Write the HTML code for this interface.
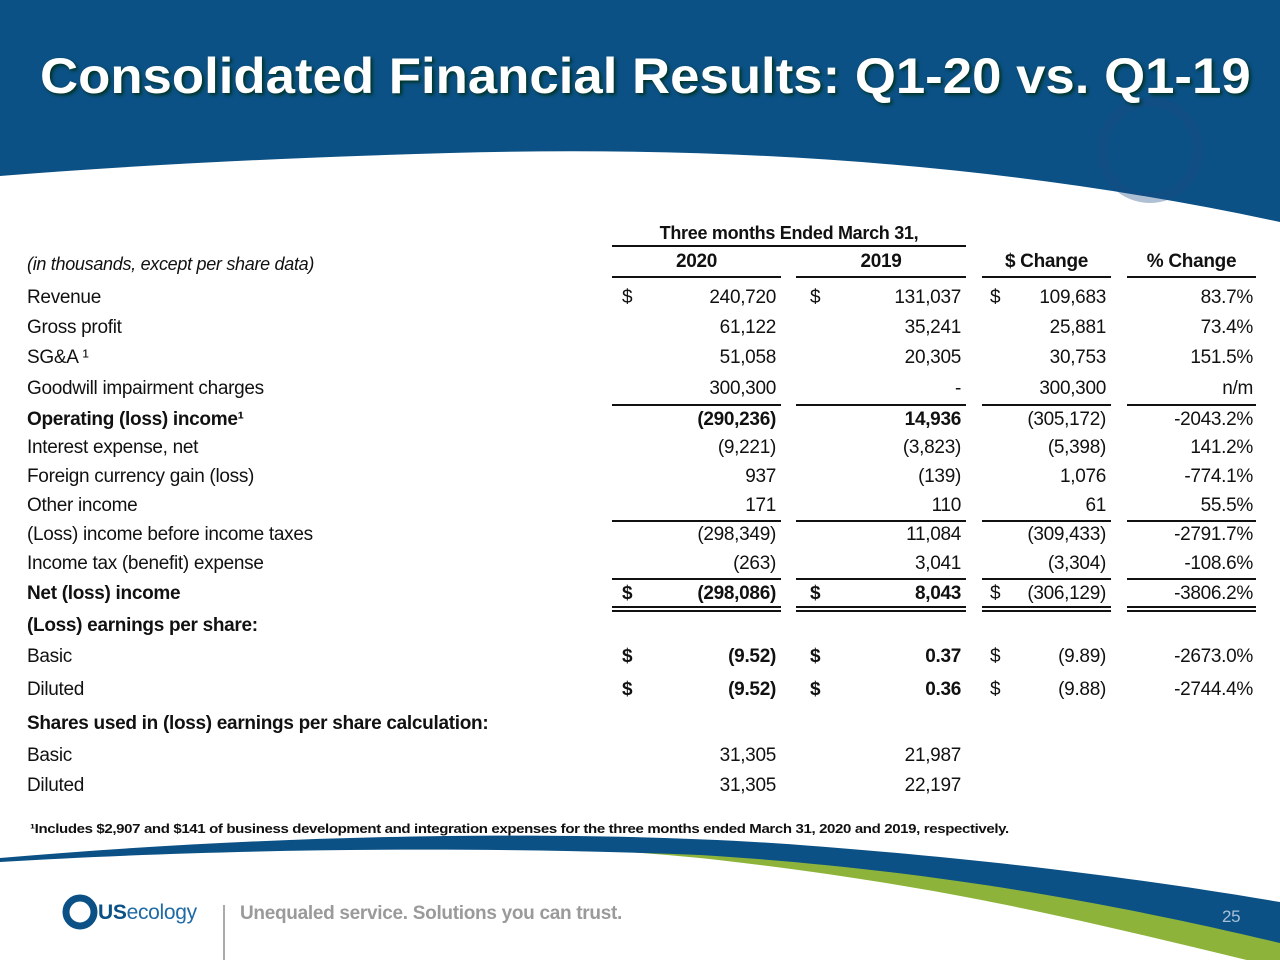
<!DOCTYPE html>
<html><head><meta charset="utf-8"><style>
body{margin:0;width:1280px;height:960px;overflow:hidden;background:#fff;font-family:"Liberation Sans",sans-serif;position:relative}
.t{position:absolute;white-space:nowrap;font-size:19px;color:#111;line-height:22px;letter-spacing:-0.3px}
.r{text-align:right}
.b{font-weight:bold}
.ln{position:absolute;height:2px;background:#111}
</style></head><body>
<svg width="1280" height="960" style="position:absolute;left:0;top:0">
<path d="M0 0 H1280 V222 Q900 140 450 153 Q200 160 0 176 Z" fill="#0b5185"/>
<circle cx="1150" cy="150" r="48" fill="none" stroke="#1a4a85" stroke-width="10" opacity="0.35"/>
<path d="M560 848 C800 855 1000 880 1280 925 V968 C1100 925 950 885 700 858 C650 853 600 850 560 848 Z" fill="#8db33a"/>
<path d="M0 858 C300 832 600 830 800 845 C1000 860 1150 880 1280 902 V943 C1150 912 950 870 700 855 C450 845 200 850 0 862 Z" fill="#0b5185"/>
<circle cx="80" cy="912" r="14" fill="none" stroke="#0b5185" stroke-width="7"/>
<line x1="224" y1="905" x2="224" y2="960" stroke="#aaa" stroke-width="2"/>
</svg>
<div class="t b" style="left:40px;top:46px;font-size:50px;line-height:60px;color:#fff;text-shadow:2px 2px 3px #032;letter-spacing:0;transform:scaleX(1.055);transform-origin:left">Consolidated Financial Results: Q1-20 vs. Q1-19</div>
<div class="t b" style="left:612px;top:222px;width:354px;text-align:center;font-size:18px">Three months Ended March 31,</div>
<div class="ln" style="left:612px;top:245px;width:354px"></div>
<div class="t" style="left:27px;top:253px;font-style:italic;font-size:18px">(in thousands, except per share data)</div>
<div id="tbl"></div>
<div class="t b" style="left:30px;top:818px;font-size:12.5px;transform:scaleX(1.2);transform-origin:left">¹Includes $2,907 and $141 of business development and integration expenses for the three months ended March 31, 2020 and 2019, respectively.</div>
<div class="t b" style="left:98px;top:902px;font-size:21px;color:#0b5185">US<span style="font-weight:normal;color:#1f6aa5">ecology</span></div>
<div class="t" style="left:240px;top:903px;font-size:19px;color:#9a9a9a;font-weight:bold">Unequaled service. Solutions you can trust.</div>
<div class="t" style="left:1222px;top:906px;font-size:17px;color:#a8c0d8">25</div>
<script>
const labels=["Revenue","Gross profit","SG&A ¹","Goodwill impairment charges","Operating (loss) income¹","Interest expense, net","Foreign currency gain (loss)","Other income","(Loss) income before income taxes","Income tax (benefit) expense","Net (loss) income","(Loss) earnings per share:","Basic","Diluted","Shares used in (loss) earnings per share calculation:","Basic","Diluted"];
const ys=[298,328,358,389,420,448,477,506,535,564,594,626,657,690,724,756,786];
const v2020=["240,720","61,122","51,058","300,300","(290,236)","(9,221)","937","171","(298,349)","(263)","(298,086)","","(9.52)","(9.52)","","31,305","31,305"];
const v2019=["131,037","35,241","20,305","-","14,936","(3,823)","(139)","110","11,084","3,041","8,043","","0.37","0.36","","21,987","22,197"];
const vChg=["109,683","25,881","30,753","300,300","(305,172)","(5,398)","1,076","61","(309,433)","(3,304)","(306,129)","","(9.89)","(9.88)","","",""];
const vPct=["83.7%","73.4%","151.5%","n/m","-2043.2%","141.2%","-774.1%","55.5%","-2791.7%","-108.6%","-3806.2%","","-2673.0%","-2744.4%","","",""];
const boldRows=[4,10,11,12,13,14];
const boldLabels=[4,10,11,14];
const dollar=[0,10,12,13];
const tbl=document.getElementById('tbl');
function add(txt,left,top,w,cls,name){const d=document.createElement('div');d.className='t '+cls;d.textContent=txt;d.style.left=left+'px';d.style.top=(top-11)+'px';if(w)d.style.width=w+'px';


tbl.appendChild(d);}
function line(l,t,w,name){const d=document.createElement('div');d.className='ln';d.style.left=l+'px';d.style.top=t+'px';d.style.width=w+'px';


tbl.appendChild(d);}
add("2020",612,262,169,'b','col-2020-header');tbl.lastChild.style.textAlign='center';
add("2019",796,262,170,'b','col-2019-header');tbl.lastChild.style.textAlign='center';
add("$ Change",982,262,129,'b','col-change-header');tbl.lastChild.style.textAlign='center';
add("% Change",1127,262,129,'b','col-pct-header');tbl.lastChild.style.textAlign='center';
const cols=[[612,169],[796,170],[982,129],[1127,129]];
cols.forEach((c,i)=>line(c[0],276,c[1],'header-underline'));
labels.forEach((lab,i)=>{const y=ys[i];
add(lab,27,y,0,boldLabels.includes(i)?'b':'','row-label');
const bc=boldRows.includes(i)&&i!=14?'b':'';
add(v2020[i],600,y,176,'r '+bc,'value-2020');
add(v2019[i],790,y,171,'r '+bc,'value-2019');
add(vChg[i],980,y,126,'r','value-change');
add(vPct[i],1120,y,133,'r','value-pct');
if(dollar.includes(i)){add('$',622,y,0,bc,'dollar-sign');add('$',810,y,0,bc,'dollar-sign');add('$',990,y,0,'','dollar-sign');}
});
[404,520,578].forEach(t=>cols.forEach(c=>line(c[0],t,c[1],'subtotal-line')));
cols.forEach(c=>{line(c[0],606,c[1],'double-underline');line(c[0],610,c[1],'double-underline');});
</script>
</body></html>
